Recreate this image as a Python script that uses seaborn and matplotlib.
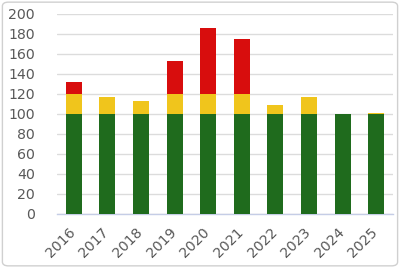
import matplotlib
matplotlib.use("Agg")
import matplotlib.pyplot as plt
import matplotlib.transforms as mtransforms
import seaborn as sns
import pandas as pd
from matplotlib.patches import FancyBboxPatch

years = ["2016", "2017", "2018", "2019", "2020", "2021", "2022", "2023", "2024", "2025"]
green = [100, 100, 100, 100, 100, 100, 100, 100, 100, 100]
yellow = [20, 17, 13, 20, 20, 20, 9, 17, 0, 1]
red = [12, 0, 0, 33, 66, 55, 0, 0, 0, 0]
yticks = [0, 20, 40, 60, 80, 100, 120, 140, 160, 180, 200]

c_green = "#1f6b1d"
c_yellow = "#f0c51c"
c_red = "#d80d0d"

df = pd.DataFrame({"year": years, "green": green, "yellow": yellow, "red": red})
df["gy"] = df["green"] + df["yellow"]
df["total"] = df["gy"] + df["red"]

sns.set_style("white")
plt.rcParams['font.family'] = ['DejaVu Sans']

fig = plt.figure(figsize=(4.0, 2.68), dpi=100)
ax = fig.add_axes([0.1425, 0.2015, 0.84, 0.7465])

for col, color in [("total", c_red), ("gy", c_yellow), ("green", c_green)]:
    sns.barplot(data=df, x="year", y=col, color=color, width=0.48, ax=ax,
                saturation=1, edgecolor="none", linewidth=0, zorder=3)

ax.set_ylim(0, 200)
ax.set_xlim(-0.5, len(years) - 0.5)
ax.set_yticks(yticks)
ax.set_yticklabels([str(t) for t in yticks])
ax.set_xlabel("")
ax.set_ylabel("")
ax.yaxis.grid(True, color="#dcdcdc", linewidth=1, zorder=0)
ax.set_axisbelow(True)
for s in ["top", "right", "left"]:
    ax.spines[s].set_visible(False)
ax.spines["bottom"].set_color("#c5cde6")
ax.spines["bottom"].set_linewidth(1)
ax.tick_params(axis="y", length=0, labelsize=10.2, labelcolor="#595959", pad=16)
ax.tick_params(axis="x", length=0, labelsize=10.2, labelcolor="#595959", pad=8)
offset = mtransforms.ScaledTranslation(-4 / 72, 0, fig.dpi_scale_trans)
for lbl in ax.get_xticklabels():
    lbl.set_rotation(45)
    lbl.set_ha("right")
    lbl.set_rotation_mode("anchor")
    lbl.set_transform(lbl.get_transform() + offset)

frame = FancyBboxPatch((0.006, 0.008), 0.988, 0.984, boxstyle="round,pad=0,rounding_size=0.015",
                       transform=fig.transFigure, facecolor="none", edgecolor="#d0d0d0",
                       linewidth=1, zorder=10)
fig.patches.append(frame)

fig.savefig("out.png", dpi=100)
